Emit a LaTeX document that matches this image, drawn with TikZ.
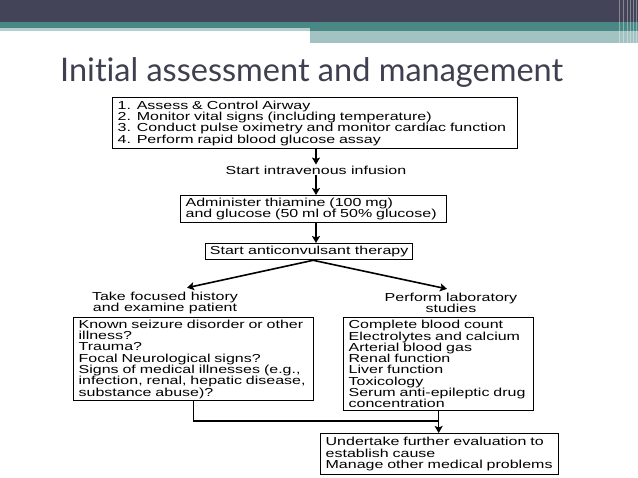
\documentclass[tikz,border=0pt]{standalone}
\usepackage{fontspec}
\newfontfamily\diagfont[FakeStretch=1.38]{Liberation Sans}
\newfontfamily\titlefont[Ligatures=NoCommon]{Lato}
\usetikzlibrary{arrows.meta, positioning, calc}
\definecolor{slatebar}{RGB}{68, 68, 88}
\definecolor{tealbar}{RGB}{74, 136, 134}
\definecolor{paleteal}{RGB}{163, 195, 195}
\definecolor{titlegray}{RGB}{63, 63, 80}

\tikzset{
  flowbox/.style={draw, line width=1.3pt, anchor=north west, align=left, inner xsep=5pt, inner ysep=2pt, font=\diagfont\fontsize{11.6}{11.3}\selectfont},
  flowtext/.style={align=center, inner sep=1pt, font=\diagfont\fontsize{11.6}{11.3}\selectfont},
  flowarrow/.style={line width=1.6pt, -{Stealth[length=7pt, width=8pt, inset=1.5pt]}},
  flowline/.style={line width=1.6pt}
}

\begin{document}
\begin{tikzpicture}[x=1pt, y=-1pt]
  \useasboundingbox (0,0) rectangle (638,478);

  % Slide header
  \fill[slatebar] (0,0) rectangle (638,22);
  \fill[tealbar] (0,22) rectangle (638,28);
  \fill[paleteal!80] (0,28) rectangle (310,31);
  \fill[tealbar] (310,28) rectangle (638,31);
  \fill[paleteal] (310,31) rectangle (638,43);
  \foreach \sx in {619, 623, 627, 630, 633, 636}
    \draw[white, opacity=0.35, line width=1pt] (\sx,0) -- (\sx,43);

  \node[anchor=base west, inner sep=0, text=titlegray, font=\titlefont\fontsize{32.5}{32.5}\selectfont] (title) at (60,82) {Initial assessment and management};

  % First steps
  \node[flowbox, text width=395pt, minimum height=51pt] (assess) at (112,97) {1. Assess \& Control Airway\\2. Monitor vital signs (including temperature)\\3. Conduct pulse oximetry and monitor cardiac function\\4. Perform rapid blood glucose assay};

  \node[flowtext] (iv) at (316,170) {Start intravenous infusion};

  \node[flowbox, text width=256pt, minimum height=27pt] (thiamine) at (180,195) {Administer thiamine (100 mg)\\and glucose (50 ml of 50\% glucose)};

  \node[flowbox, align=center, inner xsep=2pt, minimum width=207pt, minimum height=16pt] (anticonv) at (205,243) {Start anticonvulsant therapy};

  \draw[flowarrow] (assess.south -| iv) -- (iv.north);
  \draw[flowarrow] (iv.south) -- (thiamine.north -| iv);
  \draw[flowarrow] (thiamine.south -| iv) -- (anticonv.north -| iv);

  % Two branches
  \node[flowtext] (history) at (165,303) {Take focused history\\and examine patient};
  \node[flowtext] (labs) at (451,303) {Perform laboratory\\studies};

  \draw[flowarrow] ([xshift=4pt]anticonv.south) -- ([xshift=22pt, yshift=3pt]history.north);
  \draw[flowarrow] ([xshift=4pt]anticonv.south) -- ([xshift=-4pt, yshift=3pt]labs.north);

  \node[flowbox, text width=230pt, minimum height=83pt] (historybox) at (73,317) {Known seizure disorder or other\\illness?\\Trauma?\\Focal Neurological signs?\\Signs of medical illnesses (e.g.,\\infection, renal, hepatic disease,\\substance abuse)?};

  \node[flowbox, text width=180pt, minimum height=93pt] (labsbox) at (343,317) {Complete blood count\\Electrolytes and calcium\\Arterial blood gas\\Renal function\\Liver function\\Toxicology\\Serum anti-epileptic drug\\concentration};

  % Further evaluation
  \node[flowbox, text width=228pt, minimum height=41pt] (further) at (320,433) {Undertake further evaluation to\\establish cause\\Manage other medical problems};

  \coordinate (merge) at (labsbox.south |- 0,421);
  \draw[flowline] (historybox.south) |- (merge);
  \draw[flowarrow] (labsbox.south) -- (further.north -| labsbox.south);
\end{tikzpicture}
\end{document}
